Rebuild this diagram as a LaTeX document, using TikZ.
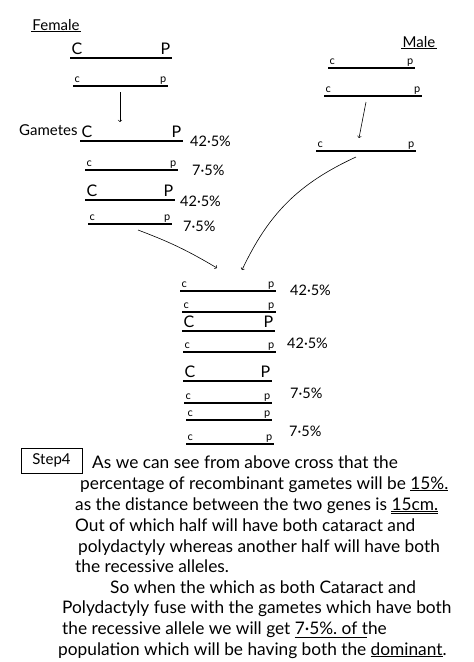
\documentclass[tikz,border=0pt]{standalone}
\usepackage{fontspec}
\setmainfont{Lato}
\usetikzlibrary{arrows,positioning}
\tikzstyle{arrow} = [semithick,->,>=to]
\newcommand{\bigC}{{\fontsize{16}{16}\selectfont C}}
\newcommand{\bigP}{{\fontsize{16}{16}\selectfont P}}

\begin{document}
\begin{tikzpicture}
    [x=1pt,y=-1pt,
    allele/.style={inner xsep=1.5pt, inner ysep=3.5pt, text depth=0pt,
    font=\fontsize{11}{11}\selectfont},
    pct/.style={anchor=west, inner sep=0pt, font=\fontsize{14.5}{14.5}\selectfont},
    title/.style={inner sep=1pt, font=\fontsize{15}{15}\selectfont},
    textline/.style={anchor=base west, inner sep=0pt, font=\fontsize{17.3}{17.3}\selectfont}]
    \useasboundingbox[fill=white] (0,0) rectangle (474,662);
    % headings
    \node[title] (female) at (56,25) {Female};
    \node[title] (male) at (419,42) {Male};
    \node[title, anchor=west] (gametes) at (18,130) {Gametes};
    \draw[thick] (female.south west) -- (female.south east);
    \draw[thick] (male.south west) -- (male.south east);
    % chromosomes
    \foreach \n/\xa/\xb/\y/\a/\b in {f1/70/172/58/\bigC/\bigP, f2/73/168/86/c/p,
    g1/80/183/141/\bigC/\bigP, g2/85/178/170/c/p, g3/85/175/200/\bigC/\bigP, g4/88/172/224/c/p,
    m1/328/415/68/c/p, m2/324/422/96/c/p, m3/316/416/151/c/p,
    o1/180/276/291/c/p, o2/182/276/312/c/p, o3/182/275/331/\bigC/\bigP, o4/183/276/352/c/p,
    o5/183/272/381/\bigC/\bigP, o6/184/272/403/c/p, o7/186/272/420/c/p, o8/186/274/444/c/p}
    {
    \node[allele, anchor=south west] (\n l) at (\xa,\y) {\a};
    \node[allele, anchor=south east] (\n r) at (\xb,\y) {\b};
    \draw[line width=1.1pt] (\n l.south west) -- (\n r.south east);
    }
    % frequencies
    \node[pct] (pg1) at (190,141) {42·5\%};
    \node[pct] (pg2) at (192,170) {7·5\%};
    \node[pct] (pg3) at (180,201) {42·5\%};
    \node[pct] (pg4) at (183,226) {7·5\%};
    \node[pct] (po1) at (290,290) {42·5\%};
    \node[pct] (po2) at (287,343) {42·5\%};
    \node[pct] (po3) at (290,393) {7·5\%};
    \node[pct] (po4) at (289,431) {7·5\%};
    % arrows
    \coordinate (fa) at (120,92);
    \coordinate (fb) at (120,122);
    \coordinate (ma) at (366,102);
    \coordinate (mb) at (359,138);
    \coordinate (ca) at (138,230);
    \coordinate (cb) at (217,268);
    \coordinate (da) at (356,157);
    \coordinate (db) at (242,270);
    \draw[arrow] (fa) -- (fb);
    \draw[arrow] (ma) -- (mb);
    \draw[arrow] (ca) to[bend left=5] (cb);
    \draw[arrow] (da) to[bend right=20] (db);
    % step 4
    \node[draw, thick, minimum width=61pt, minimum height=25pt, inner sep=0pt,
    font=\fontsize{15}{15}\selectfont] (step) at (51.5,460.5) {Step4};
    \node[textline] (t1) at (92,468) {As we can see from above cross that the};
    \node[textline] (t2) at (80,489) {percentage of recombinant gametes will be \underline{15\%.}};
    \node[textline] (t3) at (75,510) {as the distance between the two genes is \underline{\underline{15cm.}}};
    \node[textline] (t4) at (75,531) {Out of which half will have both cataract and};
    \node[textline] (t5) at (78,552) {polydactyly whereas another half will have both};
    \node[textline] (t6) at (75,572) {the recessive alleles.};
    \node[textline] (t7) at (110,593) {So when the which as both Cataract and};
    \node[textline] (t8) at (62,613) {Polydactyly fuse with the gametes which have both};
    \node[textline] (t9) at (62,634) {the recessive allele we will get};
    \node[textline, right=4pt of t9.base east, anchor=base west] (t9b) {7·5\%.};
    \node[textline, right=4pt of t9b.base east, anchor=base west] (t9c) {of the};
    \node[textline] (t10) at (58,655) {population which will be having};
    \node[textline, right=4pt of t10.base east, anchor=base west] (t10b) {both the};
    \node[textline, right=4pt of t10b.base east, anchor=base west] (t10c) {\underline{dominant}.};
    \draw[semithick] ([yshift=-3pt]t9b.south west) -- ([yshift=-3pt]t9b.south west -| t10b.east);
\end{tikzpicture}
\end{document}
